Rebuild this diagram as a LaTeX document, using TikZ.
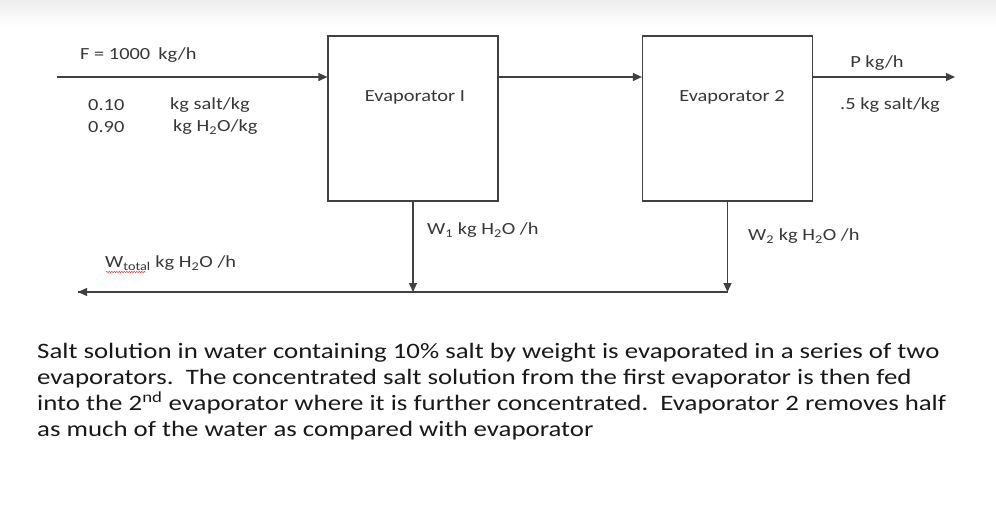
\documentclass[tikz,border=0pt]{standalone}
\usepackage{fontspec}
\setmainfont{Carlito}
\usetikzlibrary{arrows.meta,decorations.pathmorphing}
\newcommand{\sxl}[1]{\scalebox{1.2}[1]{#1}}
\newcommand{\sxp}[1]{\scalebox{1.22}[1]{#1}}
\begin{document}
\begin{tikzpicture}[x=1pt,y=-1pt,
  evap/.style={draw=black!75, line width=1.2pt, minimum width=170pt, minimum height=165pt, inner sep=0pt},
  flow/.style={draw=black!75, line width=1.2pt, -{Triangle[length=9pt,width=8pt]}},
  pipe/.style={draw=black!75, line width=1.2pt},
  lbl/.style={font=\fontsize{17}{20}\selectfont, text=black!78, inner sep=0pt},
  para/.style={font=\fontsize{22}{26}\selectfont, text=black!90, inner sep=0pt, anchor=base west}]
\useasboundingbox (0,0) rectangle (996,519);
\fill[white] (0,0) rectangle (996,519);
\shade[top color=black!7, bottom color=white] (0,0) rectangle (996,26);

\node[evap] (e1) at (413,118.5) {};
\node[evap] (e2) at (727.5,118.5) {};
\node[lbl] (t1) at (415,97) {\sxl{Evaporator I}};
\node[lbl] (t2) at (732,97) {\sxl{Evaporator 2}};

\coordinate (fin) at (57,77);
\coordinate (pout) at (955,77);
\coordinate (bot) at (0,292);
\coordinate (wend) at (78,292);

\draw[flow] (fin) -- (fin -| e1.west);
\draw[flow] (e1.east |- fin) -- (e2.west |- fin);
\draw[flow] (e2.east |- fin) -- (pout);
\draw[pipe] (e2.south |- bot) -- (wend);
\draw[flow] (wend) ++(10,0) -- (wend);
\draw[flow] (e1.south) -- (e1.south |- bot);
\draw[flow] (e2.south) -- (e2.south |- bot);

\node[lbl, anchor=west] (f) at (80,55) {\sxl{F = 1000\, kg/h}};
\node[lbl, anchor=west] (x1) at (88,105) {\sxl{0.10}};
\node[lbl, anchor=west] (x2) at (88,127) {\sxl{0.90}};
\node[lbl, anchor=west] (u1) at (170,105) {\sxl{kg salt/kg}};
\node[lbl, anchor=west] (u2) at (173,127) {\sxl{kg H\textsubscript{2}O/kg}};
\node[lbl] (p) at (877,63) {\sxl{P kg/h}};
\node[lbl] (c) at (890,105) {\sxl{.5 kg salt/kg}};
\node[lbl, anchor=west] (w1) at (427,230) {\sxl{W\textsubscript{1} kg H\textsubscript{2}O /h}};
\node[lbl, anchor=west] (w2) at (748,236) {\sxl{W\textsubscript{2} kg H\textsubscript{2}O /h}};
\node[lbl, anchor=west] (wt) at (105,263) {\sxl{W\textsubscript{total} kg H\textsubscript{2}O /h}};
\draw[red!80, line width=0.5pt, decorate, decoration={snake, amplitude=0.7pt, segment length=2.5pt}] (106,272) -- (146,272);

\node[para] (l1) at (37,358) {\sxp{Salt solution in water containing 10\% salt by weight is evaporated in a series of two}};
\node[para] (l2) at (37,384) {\sxp{evaporators.\ \ The concentrated salt solution from the first evaporator is then fed}};
\node[para] (l3) at (37,410) {\sxp{into the 2\textsuperscript{nd} evaporator where it is further concentrated.\ \ Evaporator 2 removes half}};
\node[para] (l4) at (37,436) {\sxp{as much of the water as compared with evaporator}};
\end{tikzpicture}
\end{document}
